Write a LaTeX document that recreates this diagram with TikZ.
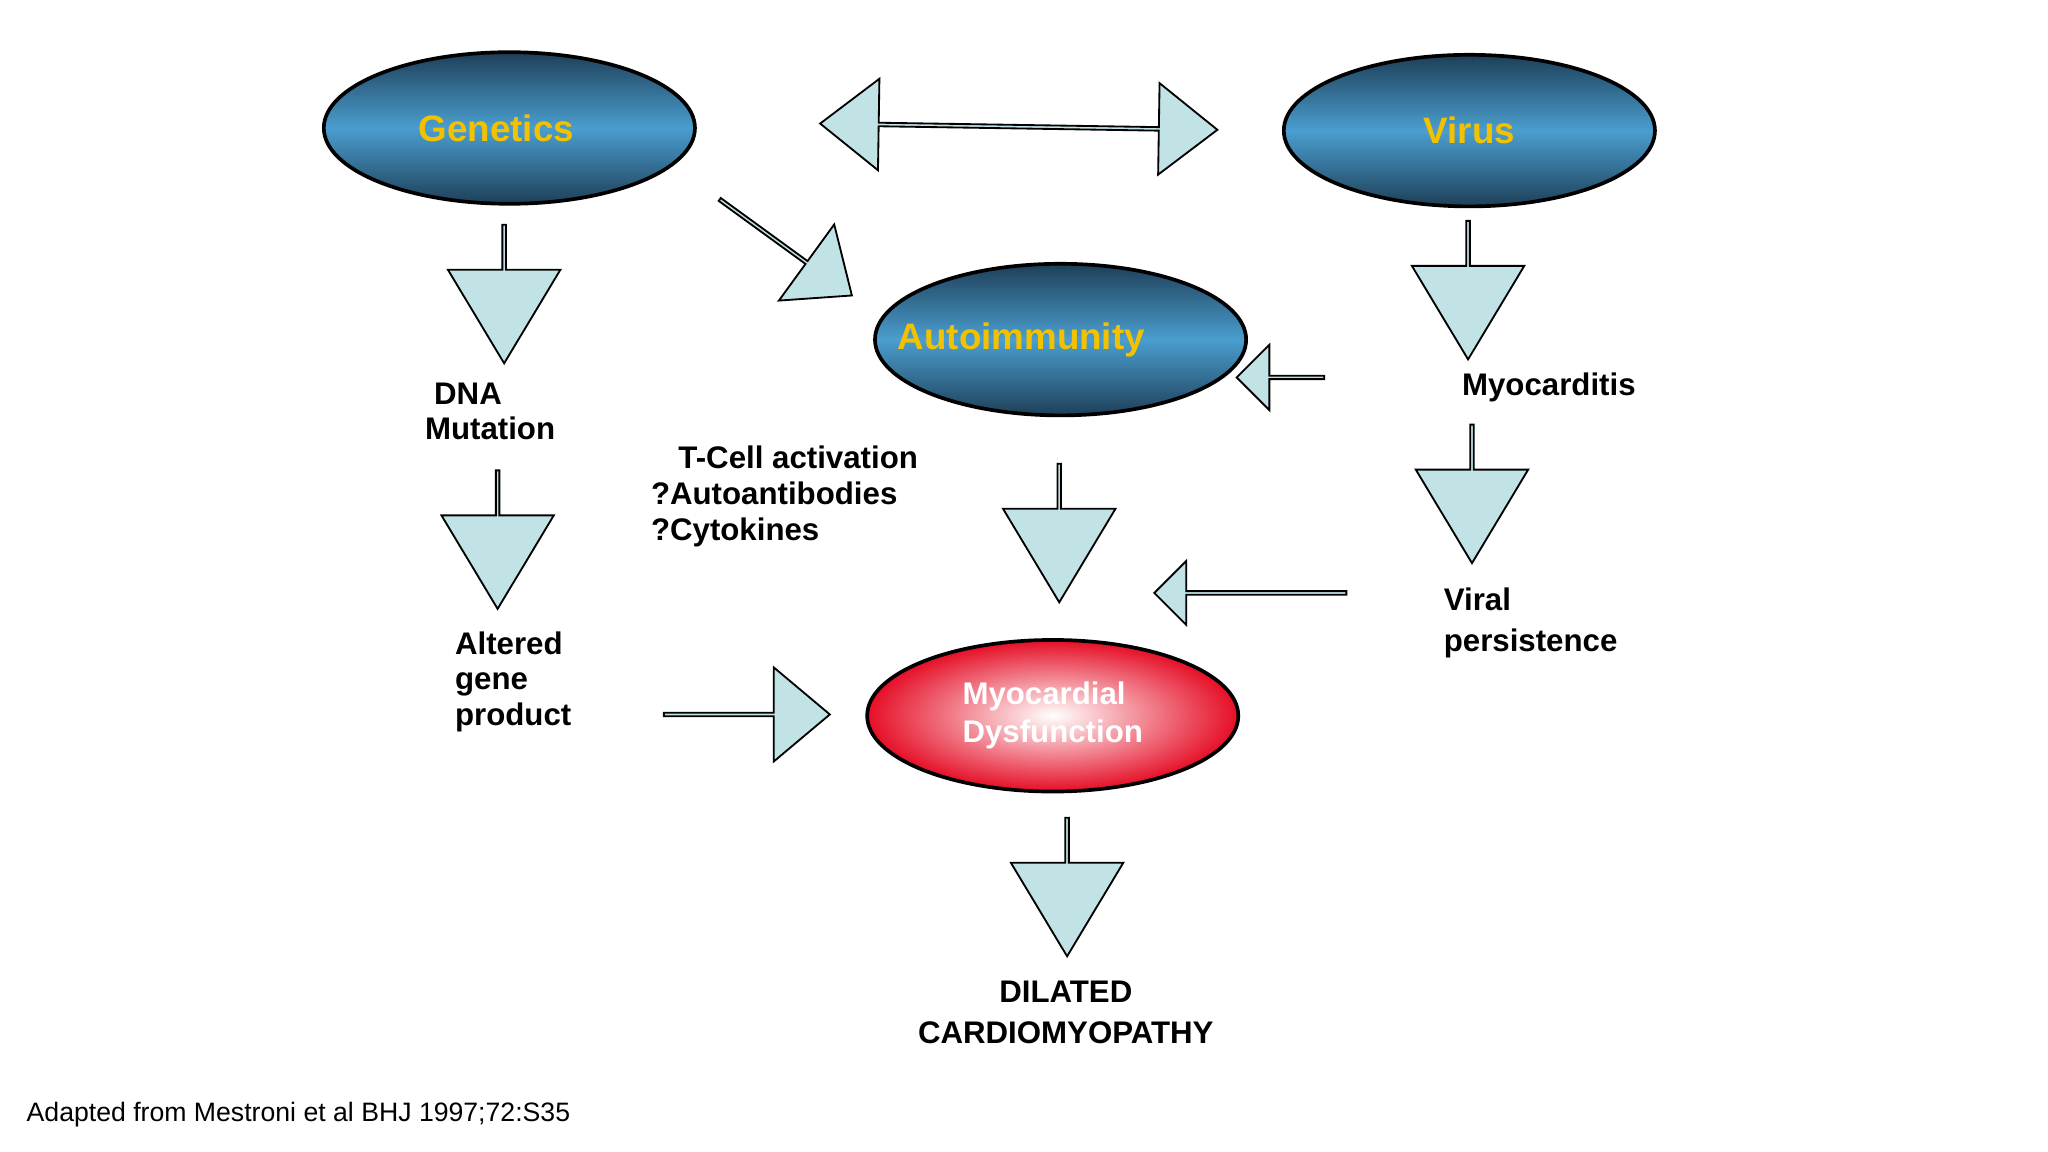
\documentclass[tikz,border=0pt]{standalone}
\usepackage{fontspec}
\setmainfont{Liberation Sans}
\usetikzlibrary{shapes.geometric, shapes.arrows, positioning, calc}
\definecolor{arrowFill}{HTML}{C2E3E5}
\definecolor{blueDark}{HTML}{1E3F58}
\definecolor{blueMid}{HTML}{4A9ECF}
\definecolor{goldText}{HTML}{F2C200}
\definecolor{redOuter}{HTML}{E50E26}

\begin{document}
\begin{tikzpicture}[
    x=0.01cm, y=-0.01cm,
    causeNode/.style={ellipse, draw=black, thick, minimum width=2.84cm, minimum height=1.16cm,
        top color=blueDark, bottom color=blueDark, middle color=blueMid,
        text=goldText, font=\fontsize{8}{9.5}\selectfont\bfseries},
    blockDown/.style={single arrow, draw=black, fill=arrowFill, shape border rotate=270,
        minimum height=1.06cm, minimum width=0.86cm, single arrow head extend=0.215cm,
        single arrow tip angle=62, single arrow head indent=0pt, inner sep=0pt, outer sep=0pt},
    blockSide/.style={single arrow, draw=black, fill=arrowFill,
        single arrow head indent=0pt, inner sep=0pt, outer sep=0pt},
    stepText/.style={anchor=west, align=left, font=\fontsize{6.8}{7.8}\selectfont\bfseries}
]
    \useasboundingbox (0,0) rectangle (1568,882);

    % --- main ellipses ---
    \node[causeNode] (genetics) at (390,98) {\hspace*{-0.2cm}Genetics};
    \node[causeNode] (virus) at (1125,100) {Virus};
    \node[causeNode] (autoimm) at (812,260) {\hspace*{-0.6cm}Autoimmunity};
    \node[ellipse, draw=black, thick, minimum width=2.84cm, minimum height=1.16cm,
        shading=radial, inner color=white, outer color=redOuter, text=white, align=left,
        font=\fontsize{6.8}{8.2}\selectfont\bfseries] (dysfunction) at (806,548)
        {Myocardial\\Dysfunction};

    % --- double arrow between causes ---
    \node[double arrow, draw=black, fill=arrowFill, rotate=-0.9, minimum height=3.04cm,
        minimum width=0.7cm, double arrow head extend=0.175cm, double arrow tip angle=76,
        double arrow head indent=0pt, inner sep=0pt] (link) at (780,97) {};

    % --- diagonal arrow into autoimmunity ---
    \node[blockSide, rotate=-36, minimum height=1.25cm, minimum width=0.72cm,
        single arrow head extend=0.18cm, single arrow tip angle=80] (diag) at (601,189) {};

    % --- downward arrows ---
    \node[blockDown] (gDown) at (386,224) {};
    \node[blockDown] (dnaDown) at (381,412) {};
    \node[blockDown] (aDown) at (811,407) {};
    \node[blockDown] (vDown) at (1124,221) {};
    \node[blockDown] (mDown) at (1127,377) {};
    \node[blockDown] (dDown) at (817,678) {};

    % --- sideways arrows ---
    \node[blockSide, minimum height=1.27cm, minimum width=0.72cm,
        single arrow head extend=0.18cm, single arrow tip angle=80] (geneRight) at (571,547) {};
    \node[blockSide, shape border rotate=180, minimum height=1.47cm, minimum width=0.49cm,
        single arrow head extend=0.115cm, single arrow tip angle=90] (persistLeft) at (958,454) {};
    \node[blockSide, shape border rotate=180, minimum height=0.67cm, minimum width=0.5cm,
        single arrow head extend=0.13cm, single arrow tip angle=90] (myoLeft) at (981,289) {};

    % --- step labels ---
    \node[stepText] (dna) at (313,315) {\hspace*{0.07cm}DNA\\Mutation};
    \node[stepText] (tcell) at (486,380) {\hspace*{0.21cm}T-Cell activation\\?Autoantibodies\\?Cytokines};
    \node[stepText] (myocarditis) at (1107,297) {Myocarditis};
    \node[stepText, font=\fontsize{6.8}{9}\selectfont\bfseries] (viral) at (1093,477) {Viral\\persistence};
    \node[stepText] (altered) at (336,522) {Altered\\gene\\product};
    \node[align=center, font=\fontsize{6.8}{9}\selectfont\bfseries] (dcm) at (816,775) {DILATED\\CARDIOMYOPATHY};

    % footer
    \node[anchor=west, font=\fontsize{5.8}{7}\selectfont] (source) at (8,853) {Adapted from Mestroni et al BHJ 1997;72:S35};
\end{tikzpicture}
\end{document}
